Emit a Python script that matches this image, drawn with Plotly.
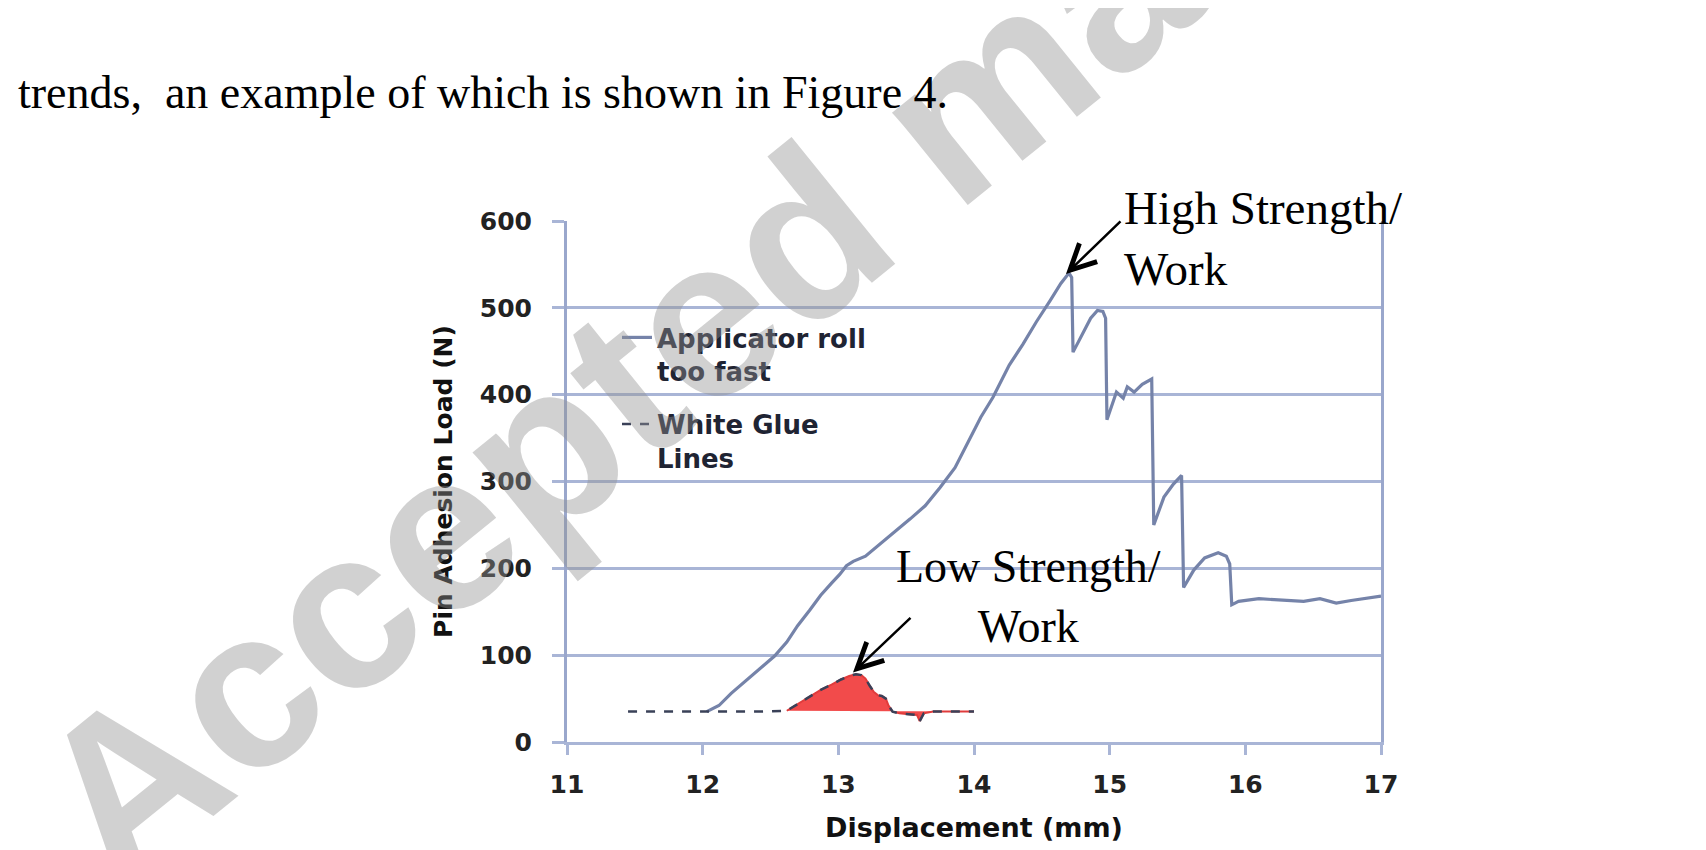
import plotly.graph_objects as go

# Applicator roll too fast (solid curve), displacement mm / load N
app_x = [12.03, 12.12, 12.21, 12.30, 12.39, 12.46, 12.53, 12.62, 12.70, 12.79, 12.87,
         12.95, 13.01, 13.06, 13.11, 13.20, 13.31, 13.42, 13.53, 13.64, 13.75, 13.86,
         13.97, 14.05, 14.14, 14.26, 14.36, 14.46, 14.56, 14.64, 14.70, 14.72, 14.73,
         14.80, 14.86, 14.91, 14.95, 14.97, 14.98, 15.05, 15.10, 15.13, 15.18, 15.24,
         15.31, 15.325, 15.40, 15.47, 15.53, 15.545, 15.62, 15.70, 15.80, 15.86, 15.885,
         15.90, 15.95, 16.10, 16.25, 16.43, 16.55, 16.67, 16.78, 16.90, 17.00]
app_y = [35, 42, 56, 68, 80, 90, 99, 115, 134, 152, 169,
         183, 193, 203, 208, 214, 228, 243, 257, 272, 293, 316,
         350, 374, 397, 434, 458, 484, 508, 528, 540, 535, 449,
         470, 488, 497, 496, 488, 371, 403, 396, 409, 403, 412,
         418, 250, 282, 297, 307, 178, 198, 212, 218, 214, 205,
         158, 162, 165, 164, 162, 165, 160, 163, 166, 168]

# White glue lines (dashed curve)
glue_x = [11.45, 11.80, 12.10, 12.40, 12.62, 12.70, 12.78, 12.87, 12.95, 13.02, 13.08,
          13.13, 13.17, 13.20, 13.23, 13.26, 13.29, 13.32, 13.35, 13.37, 13.40, 13.45,
          13.52, 13.58, 13.60, 13.63, 13.70, 13.85, 14.00]
glue_y = [35, 35, 35, 35, 36, 44, 52, 60, 66, 72, 76,
          78, 77, 73, 65, 58, 54, 53, 50, 42, 35, 33,
          32, 31, 24, 33, 35, 35, 35]
fill_start = 4  # glue curve leaves the baseline here

x_ticks = [11, 12, 13, 14, 15, 16, 17]
y_ticks = [0, 100, 200, 300, 400, 500, 600]

grid_col = "#a9b5d6"
axis_col = "#9aa7cc"
curve_col = "#7583a9"
sans = "DejaVu Sans"
serif = "Liberation Serif, Times New Roman, serif"

# page is 1706x850, the html body adds an 8px margin
OFF = 8
W, H = 1706 - OFF, 850 - OFF
L, R, T, B = 567 - OFF, 325, 221 - OFF, 108


def px(x):
    # page pixel -> paper x
    return (x - OFF - L) / (W - L - R)


def py(y):
    # page pixel -> paper y
    return (H - B - (y - OFF)) / (H - T - B)


fig = go.Figure()

fig.add_trace(go.Scatter(
    x=glue_x[fill_start:], y=glue_y[fill_start:],
    mode="lines", fill="toself", fillcolor="#f24b4b",
    line=dict(color="#e03c3c", width=2), showlegend=False, hoverinfo="skip",
))
fig.add_trace(go.Scatter(
    x=app_x, y=app_y, mode="lines", name="Applicator roll<br>too fast",
    legendgroup="a", line=dict(color=curve_col, width=3.2),
))
fig.add_trace(go.Scatter(
    x=glue_x, y=glue_y, mode="lines", name="White Glue<br>Lines",
    legendgroup="b", line=dict(color="#3a4158", width=2.5, dash="dash"),
))

# white patch behind the legend hides the gridlines there
fig.add_shape(type="rect", xref="paper", yref="paper",
              x0=px(603), x1=px(885), y0=py(492), y1=py(318),
              fillcolor="white", line_width=0, layer="between")

annos = [
    # watermark
    dict(text="Accepted manuscript", x=px(960), y=py(111), xref="paper", yref="paper",
         xanchor="center", yanchor="middle", showarrow=False, textangle=-39,
         font=dict(family="Liberation Sans, Arial", size=226, weight="bold",
                   color="rgba(145,145,145,0.42)")),
    dict(text="trends,&nbsp; an example of which is shown in Figure 4.",
         x=px(16), y=py(92), xref="paper", yref="paper", xanchor="left",
         yanchor="middle", showarrow=False,
         font=dict(family=serif, size=46, color="black")),
    dict(text="High Strength/<br>Work", x=px(1122), y=py(180), xref="paper",
         yref="paper", xanchor="left", yanchor="top", align="left", showarrow=False,
         font=dict(family=serif, size=47, color="black")),
    dict(text="Low Strength/<br>Work", x=px(1028), y=py(539), xref="paper",
         yref="paper", xanchor="center", yanchor="top", align="center",
         showarrow=False, font=dict(family=serif, size=46, color="black")),
    dict(text="", x=14.678, y=539, xref="x", yref="y", ax=56, ay=-54,
         showarrow=True, arrowhead=5, arrowsize=2, arrowwidth=2.5, arrowcolor="black"),
    dict(text="", x=13.108, y=80, xref="x", yref="y", ax=59, ay=-56,
         showarrow=True, arrowhead=5, arrowsize=2, arrowwidth=2.5, arrowcolor="black"),
]

fig.update_layout(
    width=W, height=H,
    margin=dict(l=L, r=R, t=T, b=B, autoexpand=False),
    paper_bgcolor="white", plot_bgcolor="white",
    annotations=annos,
    legend=dict(x=px(617), y=py(314), xanchor="left", yanchor="top",
                bgcolor="rgba(0,0,0,0)", valign="top", tracegroupgap=16,
                font=dict(family=sans, size=26, weight="bold", color="#1f2433")),
    xaxis=dict(
        range=[11, 17], tickvals=x_ticks, showgrid=False, zeroline=False,
        showline=True, linecolor=grid_col, linewidth=2.5,
        ticks="outside", ticklen=10, tickwidth=2.5, tickcolor=grid_col,
        ticklabelstandoff=8,
        tickfont=dict(family=sans, size=25, weight="bold", color="#222"),
        title=dict(text="Displacement (mm)", standoff=21,
                   font=dict(family=sans, size=27, weight="bold", color="#111")),
    ),
    yaxis=dict(
        range=[0, 600], tickvals=y_ticks, showgrid=True, gridcolor=grid_col,
        gridwidth=3, zeroline=False, showline=True, mirror=True,
        linecolor=axis_col, linewidth=3,
        ticks="outside", ticklen=12, tickwidth=2.5, tickcolor=grid_col,
        ticklabelstandoff=15,
        tickfont=dict(family=sans, size=25, weight="bold", color="#222"),
        title=dict(text="Pin Adhesion Load (N)", standoff=21,
                   font=dict(family=sans, size=25, weight="bold", color="#111")),
    ),
)

fig.write_html("out.html")
